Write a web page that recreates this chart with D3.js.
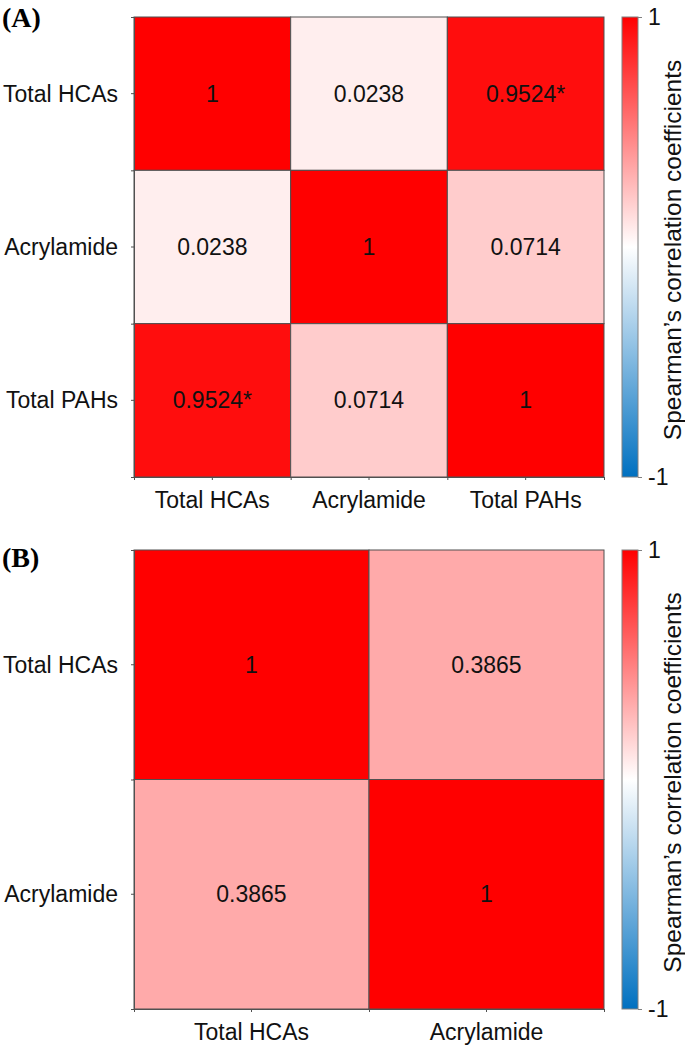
<!DOCTYPE html>
<html>
<head>
<meta charset="utf-8">
<script src="https://cdn.jsdelivr.net/npm/d3@7"></script>
<style>
  html, body { margin: 0; padding: 0; background: #fff; }
  svg { display: block; }
</style>
</head>
<body>
<svg id="chart" width="685" height="1048"></svg>
<script>
// ---- data ----
const panelATitle = "(A)";
const labelsA = ["Total HCAs", "Acrylamide", "Total PAHs"];
const valuesA = [
  [1, 0.0238, 0.9524],
  [0.0238, 1, 0.0714],
  [0.9524, 0.0714, 1]
];
const significantA = [
  [false, false, true],
  [false, false, false],
  [true, false, false]
];

const panelBTitle = "(B)";
const labelsB = ["Total HCAs", "Acrylamide"];
const valuesB = [
  [1, 0.3865],
  [0.3865, 1]
];
const significantB = [
  [false, false],
  [false, false]
];

const colorbarTicks = [-1, 1];
const colorbarTitle = "Spearman\u2019s correlation coefficients";

// ---- styling ----
const FONT = "'Liberation Sans', Arial, sans-serif";
const gridStroke = "#505050";
const cellColor = d3.scaleLinear()
  .domain([-1, 0, 0.0714, 0.3865, 1])
  .range(["#0070C0", "#FFFFFF", "#FFCCCC", "#FFAAAA", "#FF0000"])
  .clamp(true);
const barColor = d3.scaleLinear()
  .domain([-1, 0, 1])
  .range(["#0070C0", "#FFFFFF", "#FF0000"]);

const svg = d3.select("#chart");
const defs = svg.append("defs");

function fmt(v, sig) {
  const s = v === 1 ? "1" : v.toFixed(4);
  return sig ? s + "*" : s;
}

function drawPanel(opts) {
  const { title, labels, values, sig, top, bottom, left, right, id } = opts;
  const g = svg.append("g");
  const x = d3.scaleBand().domain(labels).range([left, right]);
  const y = d3.scaleBand().domain(labels).range([top, bottom]);
  const n = labels.length;
  const xi = d3.scaleLinear().domain([0, n]).range([left, right]);
  const yi = d3.scaleLinear().domain([0, n]).range([top, bottom]);

  const cells = [];
  values.forEach((row, i) => row.forEach((v, j) => cells.push({ r: labels[i], c: labels[j], v, s: sig[i][j] })));

  g.selectAll("rect.cell").data(cells).join("rect")
    .attr("class", "cell")
    .attr("x", d => x(d.c))
    .attr("y", d => y(d.r))
    .attr("width", x.bandwidth())
    .attr("height", y.bandwidth())
    .attr("fill", d => cellColor(d.v))
    .attr("stroke", gridStroke)
    .attr("stroke-width", 1);

  g.selectAll("text.val").data(cells).join("text")
    .attr("class", "val")
    .attr("x", d => x(d.c) + x.bandwidth() / 2)
    .attr("y", d => y(d.r) + y.bandwidth() / 2)
    .attr("text-anchor", "middle")
    .attr("dominant-baseline", "central")
    .attr("font-family", FONT)
    .attr("font-size", 23)
    .attr("fill", "#111")
    .text(d => fmt(d.v, d.s));

  // axes
  const xAxis = g.append("g").attr("transform", `translate(0,${bottom})`)
    .call(d3.axisBottom(x).tickSize(3).tickPadding(12).tickSizeOuter(0));
  const xAxisMinor = g.append("g").attr("transform", `translate(0,${bottom})`)
    .call(d3.axisBottom(xi).tickValues(d3.range(n + 1)).tickSize(3).tickFormat("").tickSizeOuter(0));
  const yAxis = g.append("g").attr("transform", `translate(${left},0)`)
    .call(d3.axisLeft(y).tickSize(3).tickPadding(13).tickSizeOuter(0));
  const yAxisMinor = g.append("g").attr("transform", `translate(${left},0)`)
    .call(d3.axisLeft(yi).tickValues(d3.range(n + 1)).tickSize(3).tickFormat("").tickSizeOuter(0));
  [xAxis, xAxisMinor, yAxis, yAxisMinor].forEach(a => {
    a.select(".domain").attr("stroke", gridStroke);
    a.selectAll(".tick line").attr("stroke", gridStroke);
    a.selectAll("text").attr("font-family", FONT).attr("font-size", 23).attr("fill", "#111");
  });
  yAxis.selectAll("text").attr("dy", "0.35em");

  // title
  svg.append("text")
    .attr("x", 2).attr("y", opts.titleY)
    .attr("font-family", "'Liberation Serif', 'Times New Roman', serif")
    .attr("font-weight", "bold")
    .attr("font-size", 28)
    .attr("fill", "#000")
    .text(title);

  // colorbar
  const cbX0 = 622, cbW = 16;
  const cb = d3.scaleLinear().domain([-1, 1]).range([bottom, top]);
  const grad = defs.append("linearGradient").attr("id", "grad" + id)
    .attr("x1", 0).attr("y1", 1).attr("x2", 0).attr("y2", 0);
  d3.range(0, 1.0001, 0.1).forEach(t => {
    const v = -1 + 2 * t;
    grad.append("stop").attr("offset", t).attr("stop-color", barColor(v));
  });
  svg.append("rect")
    .attr("x", cbX0).attr("y", cb(1))
    .attr("width", cbW).attr("height", cb(-1) - cb(1))
    .attr("fill", `url(#grad${id})`)
    .attr("stroke", "#808080").attr("stroke-width", 1);
  const cbAxis = svg.append("g").attr("transform", `translate(${cbX0 + cbW},0)`)
    .call(d3.axisRight(cb).tickValues(colorbarTicks).tickSize(4).tickPadding(6)
      .tickFormat(d => String(d)).tickSizeOuter(0));
  cbAxis.select(".domain").remove();
  cbAxis.selectAll(".tick line").attr("stroke", "#808080");
  cbAxis.selectAll("text").attr("font-family", FONT).attr("font-size", 23).attr("fill", "#111");

  svg.append("text")
    .attr("transform", `translate(681,${(top + bottom) / 2 + 3}) rotate(-90)`)
    .attr("text-anchor", "middle")
    .attr("font-family", FONT)
    .attr("font-size", 24.5)
    .attr("fill", "#111")
    .text(colorbarTitle);
}

drawPanel({ id: "A", title: panelATitle, labels: labelsA, values: valuesA, sig: significantA,
  top: 17, bottom: 477, left: 134, right: 604, titleY: 27 });
drawPanel({ id: "B", title: panelBTitle, labels: labelsB, values: valuesB, sig: significantB,
  top: 550, bottom: 1009, left: 134, right: 604, titleY: 567 });
</script>
</body>
</html>
